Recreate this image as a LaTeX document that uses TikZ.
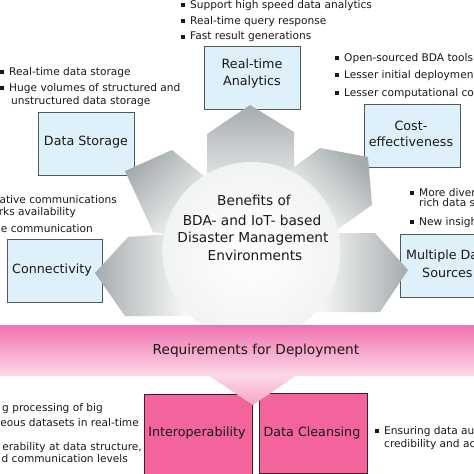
\documentclass[tikz,border=0pt]{standalone}
\usepackage{fontspec}
\setmainfont{DejaVu Sans}
\definecolor{boxblue}{RGB}{222,240,250}
\definecolor{boxline}{RGB}{80,88,92}
\definecolor{hotpink}{RGB}{242,100,155}
\definecolor{pinkline}{RGB}{60,30,40}
\definecolor{petal}{RGB}{165,172,174}
\definecolor{txt}{RGB}{25,25,25}
\definecolor{bantop}{RGB}{240,114,174}
\definecolor{banmid}{RGB}{248,182,212}
\definecolor{banbot}{RGB}{252,216,231}
\definecolor{pinktip}{RGB}{246,165,200}
\definecolor{circedge}{RGB}{242,244,244}
\newcommand\bulfont{\fontsize{10.6}{13}\selectfont}
\newcommand\boxfont{\fontsize{12.7}{16.5}\selectfont}
\newcommand\cirfont{\fontsize{13.7}{18.3}\selectfont}
\newcommand\bulsq{\llap{\rule[1pt]{4pt}{4pt}\hspace{5.5pt}}}
\begin{document}
\begin{tikzpicture}[x=1pt,y=-1pt,
  bluebox/.style={draw=boxline, fill=boxblue, line width=0.9pt, inner sep=0pt},
  pinkbox/.style={draw=pinkline, fill=hotpink, line width=0.9pt, inner sep=0pt},
  boxtext/.style={font=\boxfont, text=txt, align=center, inner sep=0pt},
  bultext/.style={font=\bulfont, text=txt, anchor=base west, inner sep=0pt},
  cuttext/.style={font=\bulfont, text=txt, anchor=base east, inner sep=0pt},
  cirtext/.style={font=\cirfont, text=txt, anchor=base, inner sep=0pt}
]
\useasboundingbox (0,0) rectangle (474,474);
\clip (0,0) rectangle (474,474);
\fill[white] (0,0) rectangle (474,474);

% boxes
\node[bluebox, minimum width=96pt, minimum height=63pt] (rta) at (252,77.5) {};
\node[bluebox, minimum width=96pt, minimum height=63pt] (ds) at (86,143.5) {};
\node[bluebox, minimum width=96pt, minimum height=63pt] (ce) at (412,135.5) {};
\node[bluebox, minimum width=95pt, minimum height=63pt] (con) at (54.5,270.5) {};
\node[bluebox, minimum width=96pt, minimum height=63pt] (mds) at (448,265.5) {};
\node[pinkbox, minimum width=108pt, minimum height=88pt] (iop) at (198,438) {};
\node[pinkbox, minimum width=108pt, minimum height=80pt] (dc) at (313,433) {};

% petals
\shade[top color=petal, bottom color=white] (207,215) -- (207,134) -- (250,105) -- (294,132) -- (294,215) -- cycle;
\shade[top color=petal, bottom color=white, shading angle=45] (172,150) -- (125,171) -- (153,232) -- (205,240) -- (215,185) -- cycle;
\shade[top color=petal, bottom color=white, shading angle=-45] (320,148) -- (368,157) -- (372,205) -- (338,229) -- (300,235) -- (290,170) -- cycle;
\shade[left color=petal, right color=white] (195,232) -- (128,237) -- (95,273) -- (125,316) -- (195,316) -- cycle;
\shade[left color=white, right color=petal] (310,233) -- (375,233) -- (408,270) -- (380,312) -- (310,312) -- cycle;

% central circle
\shade[inner color=white, outer color=circedge] (251.5,251) circle[radius=89pt];

% banner and funnel
\shade[top color=bantop, middle color=banmid, bottom color=banbot] (0,325) rectangle (474,375);
\shade[top color=banbot, bottom color=pinktip] (208,375) -- (297,375) -- (253,405) -- cycle;

% top bullets
\node[bultext] (t1) at (190,8) {\bulsq Support high speed data analytics};
\node[bultext] (t2) at (190,24) {\bulsq Real-time query response};
\node[bultext] (t3) at (190,39.5) {\bulsq Fast result generations};
% data storage bullets
\node[bultext] (s1) at (9,75) {\bulsq Real-time data storage};
\node[bultext] (s2) at (9,91) {\bulsq Huge volumes of structured and};
\node[bultext] (s3) at (11,104) {unstructured data storage};
% cost bullets
\node[bultext] (k1) at (344,61) {\bulsq Open-sourced BDA tools};
\node[bultext] (k2) at (344,78) {\bulsq Lesser initial deploymen};
\node[bultext] (k3) at (344,96) {\bulsq Lesser computational co};
% connectivity bullets (cut)
\node[cuttext] (n1) at (117,203) {ative communications};
\node[cuttext] (n2) at (76,215) {rks availability};
\node[cuttext] (n3) at (93,232) {le communication};
% multiple data sources bullets
\node[bultext] (m1) at (419,196) {\bulsq More diver};
\node[bultext] (m2) at (419,206) {rich data s};
\node[bultext] (m3) at (419,225) {\bulsq New insigh};
% bottom-left bullets (cut)
\node[cuttext] (b1) at (103,411) {g processing of big};
\node[cuttext] (b2) at (139,426) {eous datasets in real-time};
\node[cuttext] (b3) at (142,450) {erability at data structure,};
\node[cuttext] (b4) at (128,462) {d communication levels};
% bottom-right bullets
\node[bultext] (e1) at (384,434) {\bulsq Ensuring data au};
\node[bultext] (e2) at (384,447) {credibility and ac};

% box texts
\node[boxtext] (rtat) at (252,73.5) {Real-time\\Analytics};
\node[boxtext] (dst) at (86,142) {Data Storage};
\node[boxtext] (cet) at (411,134) {Cost-\\effectiveness};
\node[boxtext] (cont) at (52,270) {Connectivity};
\node[boxtext, anchor=base west] (mdt1) at (406,259.5) {Multiple Da};
\node[boxtext, anchor=base west] (mdt2) at (422,277.5) {Sources};
\node[boxtext] (iopt) at (197,433) {Interoperability};
\node[boxtext] (dct) at (312,433) {Data Cleansing};

% circle texts
\node[cirtext] (c1) at (254,205.7) {Benefits of};
\node[cirtext] (c2) at (252,225.7) {BDA- and IoT- based};
\node[cirtext] (c3) at (253,242.7) {Disaster Management};
\node[cirtext] (c4) at (255,260.7) {Environments};

% banner text
\node[font=\cirfont, text=txt, inner sep=0pt] (req) at (256,351) {Requirements for Deployment};
\end{tikzpicture}
\end{document}
